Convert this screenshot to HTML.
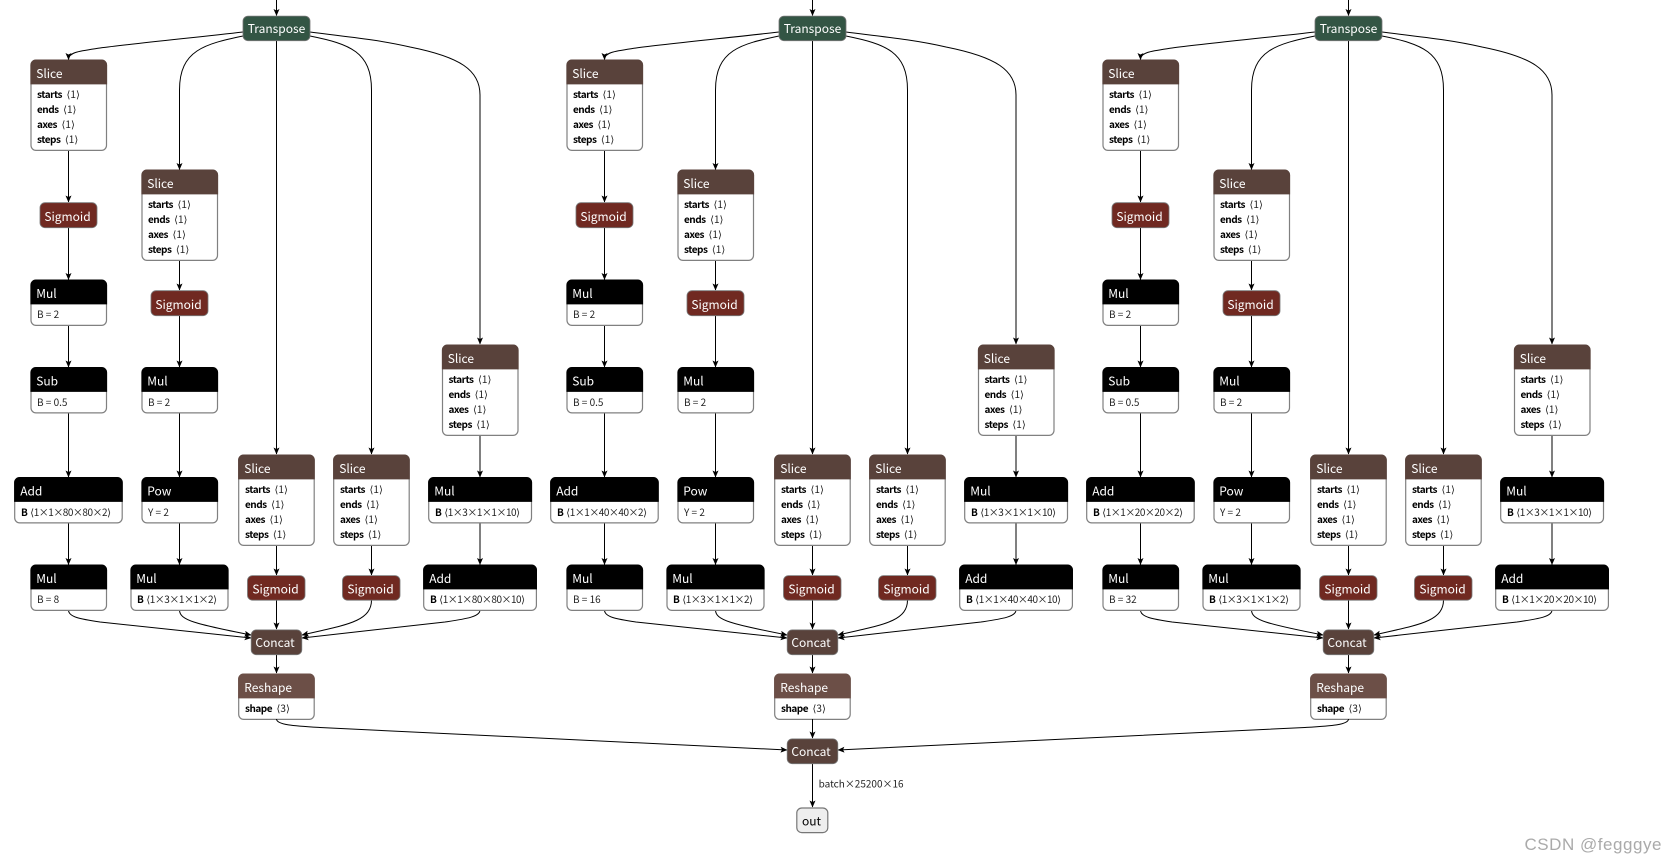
<!DOCTYPE html>
<html><head><meta charset="utf-8">
<style>
html,body{margin:0;padding:0;background:#fff}
svg{display:block}
text{font-family:"Noto Sans CJK SC","Liberation Sans",sans-serif;white-space:pre}
.h{font-size:12px;fill:#fff;transform:translate(-.8px,1px)}
.n{font-size:12px;fill:#fff;text-anchor:middle;transform:translate(0,1px)}
.a{font-size:10px;fill:#222}
.a tspan{font-weight:bold;fill:#000;letter-spacing:-.5px}
.e{fill:none;stroke:#000;stroke-width:1;marker-end:url(#m)}
.b{fill:#fff;stroke:#808080;stroke-width:1.2}
.t{fill:#59423b}.s{fill:#6c4f47}.k{fill:#000}.r{fill:#702921}.g{fill:#335544}
.o{stroke:#777;stroke-width:.8}
</style></head><body>
<svg width="1676" height="864" viewBox="0 0 1676 864" xmlns="http://www.w3.org/2000/svg">
<defs>
<marker id="m" markerUnits="userSpaceOnUse" markerWidth="7" markerHeight="6" refX="6.5" refY="3" orient="auto"><path d="M0,0L7,3L0,6L1.5,3z" fill="#000"/></marker>
<g id="E">
<path class="e" d="M276.5,0V15.5"/>
<path class="e" d="M243,32C200,37 130,44 100,48C80,51 68.5,52 68.5,59.5"/>
<path class="e" d="M243,36C205,44 179.5,50 179.5,90V169.5"/>
<path class="e" d="M276.5,40V454"/>
<path class="e" d="M310,36C350,44 371.5,52 371.5,90V454"/>
<path class="e" d="M310,32C350,37 380,40 410,47C460,57 480,70 480,95V344"/>
<path class="e" d="M68.5,150V202"/><path class="e" d="M68.5,227.5V279.5"/><path class="e" d="M68.5,325V367"/><path class="e" d="M68.5,412.5V477"/><path class="e" d="M68.5,522.5V564.5"/>
<path class="e" d="M179.5,260V290"/><path class="e" d="M179.5,315V367"/><path class="e" d="M179.5,412.5V477"/><path class="e" d="M179.5,522.5V564.5"/>
<path class="e" d="M276.5,545V575"/><path class="e" d="M276.5,600V629"/><path class="e" d="M276.5,654.5V673"/>
<path class="e" d="M371.5,545V575"/>
<path class="e" d="M480,435V477"/><path class="e" d="M480,522.5V564.5"/>
<path class="e" d="M68.5,610C68.5,617 80,619 100,622L251,638"/>
<path class="e" d="M179.5,610C179.5,620 195,624 251,635"/>
<path class="e" d="M371.5,600C371.5,622 345,625 302,635"/>
<path class="e" d="M480,610C480,617 465,619 445,622L302,638"/>
</g>
<g id="S" transform="translate(0,.4)">
<!-- slices -->
<rect class="b" x="31" y="59.7" width="75.5" height="90.3" rx="5"/><path class="t" d="M30.4,84V64.7a5.6,5.6 0 0 1 5.6,-5.6H101.5a5.6,5.6 0 0 1 5.6,5.6V84z"/>
<rect class="b" x="142" y="169.7" width="75.5" height="90.3" rx="5"/><path class="t" d="M141.4,194V174.7a5.6,5.6 0 0 1 5.6,-5.6H212.5a5.6,5.6 0 0 1 5.6,5.6V194z"/>
<rect class="b" x="442.5" y="344.7" width="75.5" height="90.3" rx="5"/><path class="t" d="M441.9,369V349.7a5.6,5.6 0 0 1 5.6,-5.6H513a5.6,5.6 0 0 1 5.6,5.6V369z"/>
<rect class="b" x="238.7" y="454.7" width="75.5" height="90.3" rx="5"/><path class="t" d="M238.1,479V459.7a5.6,5.6 0 0 1 5.6,-5.6H309.2a5.6,5.6 0 0 1 5.6,5.6V479z"/>
<rect class="b" x="333.7" y="454.7" width="75.5" height="90.3" rx="5"/><path class="t" d="M333.1,479V459.7a5.6,5.6 0 0 1 5.6,-5.6H404.2a5.6,5.6 0 0 1 5.6,5.6V479z"/>
<!-- black nodes -->
<rect class="b" x="31" y="279.7" width="75.5" height="45.3" rx="5"/><path class="k" d="M30.4,304V284.7a5.6,5.6 0 0 1 5.6,-5.6H101.5a5.6,5.6 0 0 1 5.6,5.6V304z"/>
<rect class="b" x="31" y="367.2" width="75.5" height="45.3" rx="5"/><path class="k" d="M30.4,391.5V372.2a5.6,5.6 0 0 1 5.6,-5.6H101.5a5.6,5.6 0 0 1 5.6,5.6V391.5z"/>
<rect class="b" x="142" y="367.2" width="75.5" height="45.3" rx="5"/><path class="k" d="M141.4,391.5V372.2a5.6,5.6 0 0 1 5.6,-5.6H212.5a5.6,5.6 0 0 1 5.6,5.6V391.5z"/>
<rect class="b" x="14.7" y="477.2" width="107.5" height="45.3" rx="5"/><path class="k" d="M14.1,501.5V482.2a5.6,5.6 0 0 1 5.6,-5.6H117.2a5.6,5.6 0 0 1 5.6,5.6V501.5z"/>
<rect class="b" x="142" y="477.2" width="75.5" height="45.3" rx="5"/><path class="k" d="M141.4,501.5V482.2a5.6,5.6 0 0 1 5.6,-5.6H212.5a5.6,5.6 0 0 1 5.6,5.6V501.5z"/>
<rect class="b" x="428.7" y="477.2" width="102.8" height="45.3" rx="5"/><path class="k" d="M428.1,501.5V482.2a5.6,5.6 0 0 1 5.6,-5.6H526.5a5.6,5.6 0 0 1 5.6,5.6V501.5z"/>
<rect class="b" x="31" y="564.7" width="75.5" height="45.3" rx="5"/><path class="k" d="M30.4,589V569.7a5.6,5.6 0 0 1 5.6,-5.6H101.5a5.6,5.6 0 0 1 5.6,5.6V589z"/>
<rect class="b" x="131" y="564.7" width="97" height="45.3" rx="5"/><path class="k" d="M130.4,589V569.7a5.6,5.6 0 0 1 5.6,-5.6H223a5.6,5.6 0 0 1 5.6,5.6V589z"/>
<rect class="b" x="423.7" y="564.7" width="112.7" height="45.3" rx="5"/><path class="k" d="M423.1,589V569.7a5.6,5.6 0 0 1 5.6,-5.6H531.4a5.6,5.6 0 0 1 5.6,5.6V589z"/>
<!-- reshape -->
<rect class="b" x="238.7" y="673.7" width="75.5" height="45.3" rx="5"/><path class="s" d="M238.1,698V678.7a5.6,5.6 0 0 1 5.6,-5.6H309.2a5.6,5.6 0 0 1 5.6,5.6V698z"/>
<!-- simple -->
<rect class="g o" x="243" y="15.7" width="67" height="24.6" rx="5"/>
<rect class="r o" x="40" y="202.3" width="57" height="25" rx="5"/>
<rect class="r o" x="151" y="290.3" width="57" height="25" rx="5"/>
<rect class="r o" x="247.5" y="575.2" width="57.5" height="24.6" rx="5"/>
<rect class="r o" x="342.5" y="575.2" width="57.5" height="24.6" rx="5"/>
<rect class="t o" x="251.2" y="629.5" width="50.6" height="24.8" rx="5"/>
</g>
</defs>

<!-- group 1 -->
<use href="#E"/><use href="#S"/>
<g>
<text class="n" x="276.5" y="32">Transpose</text>
<text class="h" x="37" y="77">Slice</text>
<text class="a" x="37" y="98"><tspan>starts</tspan>  ⟨1⟩</text><text class="a" x="37" y="113"><tspan>ends</tspan>  ⟨1⟩</text><text class="a" x="37" y="128"><tspan>axes</tspan>  ⟨1⟩</text><text class="a" x="37" y="143"><tspan>steps</tspan>  ⟨1⟩</text>
<text class="h" x="148" y="187">Slice</text>
<text class="a" x="148" y="208"><tspan>starts</tspan>  ⟨1⟩</text><text class="a" x="148" y="223"><tspan>ends</tspan>  ⟨1⟩</text><text class="a" x="148" y="238"><tspan>axes</tspan>  ⟨1⟩</text><text class="a" x="148" y="253"><tspan>steps</tspan>  ⟨1⟩</text>
<text class="h" x="448.5" y="362">Slice</text>
<text class="a" x="448.5" y="383"><tspan>starts</tspan>  ⟨1⟩</text><text class="a" x="448.5" y="398"><tspan>ends</tspan>  ⟨1⟩</text><text class="a" x="448.5" y="413"><tspan>axes</tspan>  ⟨1⟩</text><text class="a" x="448.5" y="428"><tspan>steps</tspan>  ⟨1⟩</text>
<text class="h" x="245" y="472">Slice</text>
<text class="a" x="245" y="493"><tspan>starts</tspan>  ⟨1⟩</text><text class="a" x="245" y="508"><tspan>ends</tspan>  ⟨1⟩</text><text class="a" x="245" y="523"><tspan>axes</tspan>  ⟨1⟩</text><text class="a" x="245" y="538"><tspan>steps</tspan>  ⟨1⟩</text>
<text class="h" x="340" y="472">Slice</text>
<text class="a" x="340" y="493"><tspan>starts</tspan>  ⟨1⟩</text><text class="a" x="340" y="508"><tspan>ends</tspan>  ⟨1⟩</text><text class="a" x="340" y="523"><tspan>axes</tspan>  ⟨1⟩</text><text class="a" x="340" y="538"><tspan>steps</tspan>  ⟨1⟩</text>
<text class="n" x="67.5" y="220">Sigmoid</text><text class="n" x="178.5" y="308">Sigmoid</text><text class="n" x="275.5" y="592.5">Sigmoid</text><text class="n" x="370.5" y="592.5">Sigmoid</text>
<text class="h" x="37" y="297">Mul</text><text class="a" x="37" y="318">B = 2</text>
<text class="h" x="37" y="384.5">Sub</text><text class="a" x="37" y="406">B = 0.5</text>
<text class="h" x="148" y="384.5">Mul</text><text class="a" x="148" y="406">B = 2</text>
<text class="h" x="21" y="494.5">Add</text><text class="a" x="21" y="516" textLength="90"><tspan>B</tspan>  ⟨1×1×80×80×2⟩</text>
<text class="h" x="148" y="494.5">Pow</text><text class="a" x="148" y="516">Y = 2</text>
<text class="h" x="435" y="494.5">Mul</text><text class="a" x="435" y="516" textLength="85"><tspan>B</tspan>  ⟨1×3×1×1×10⟩</text>
<text class="h" x="37" y="582">Mul</text><text class="a" x="37" y="603">B = 8</text>
<text class="h" x="137" y="582">Mul</text><text class="a" x="137" y="603" textLength="80"><tspan>B</tspan>  ⟨1×3×1×1×2⟩</text>
<text class="h" x="430" y="582">Add</text><text class="a" x="430" y="603" textLength="95"><tspan>B</tspan>  ⟨1×1×80×80×10⟩</text>
<text class="n" x="275" y="646">Concat</text>
<text class="h" x="245" y="691">Reshape</text><text class="a" x="245" y="712"><tspan>shape</tspan>  ⟨3⟩</text>
</g>

<!-- group 2 -->
<g transform="translate(536,0)">
<use href="#E"/><use href="#S"/>
<text class="n" x="276.5" y="32">Transpose</text>
<text class="h" x="37" y="77">Slice</text>
<text class="a" x="37" y="98"><tspan>starts</tspan>  ⟨1⟩</text><text class="a" x="37" y="113"><tspan>ends</tspan>  ⟨1⟩</text><text class="a" x="37" y="128"><tspan>axes</tspan>  ⟨1⟩</text><text class="a" x="37" y="143"><tspan>steps</tspan>  ⟨1⟩</text>
<text class="h" x="148" y="187">Slice</text>
<text class="a" x="148" y="208"><tspan>starts</tspan>  ⟨1⟩</text><text class="a" x="148" y="223"><tspan>ends</tspan>  ⟨1⟩</text><text class="a" x="148" y="238"><tspan>axes</tspan>  ⟨1⟩</text><text class="a" x="148" y="253"><tspan>steps</tspan>  ⟨1⟩</text>
<text class="h" x="448.5" y="362">Slice</text>
<text class="a" x="448.5" y="383"><tspan>starts</tspan>  ⟨1⟩</text><text class="a" x="448.5" y="398"><tspan>ends</tspan>  ⟨1⟩</text><text class="a" x="448.5" y="413"><tspan>axes</tspan>  ⟨1⟩</text><text class="a" x="448.5" y="428"><tspan>steps</tspan>  ⟨1⟩</text>
<text class="h" x="245" y="472">Slice</text>
<text class="a" x="245" y="493"><tspan>starts</tspan>  ⟨1⟩</text><text class="a" x="245" y="508"><tspan>ends</tspan>  ⟨1⟩</text><text class="a" x="245" y="523"><tspan>axes</tspan>  ⟨1⟩</text><text class="a" x="245" y="538"><tspan>steps</tspan>  ⟨1⟩</text>
<text class="h" x="340" y="472">Slice</text>
<text class="a" x="340" y="493"><tspan>starts</tspan>  ⟨1⟩</text><text class="a" x="340" y="508"><tspan>ends</tspan>  ⟨1⟩</text><text class="a" x="340" y="523"><tspan>axes</tspan>  ⟨1⟩</text><text class="a" x="340" y="538"><tspan>steps</tspan>  ⟨1⟩</text>
<text class="n" x="67.5" y="220">Sigmoid</text><text class="n" x="178.5" y="308">Sigmoid</text><text class="n" x="275.5" y="592.5">Sigmoid</text><text class="n" x="370.5" y="592.5">Sigmoid</text>
<text class="h" x="37" y="297">Mul</text><text class="a" x="37" y="318">B = 2</text>
<text class="h" x="37" y="384.5">Sub</text><text class="a" x="37" y="406">B = 0.5</text>
<text class="h" x="148" y="384.5">Mul</text><text class="a" x="148" y="406">B = 2</text>
<text class="h" x="21" y="494.5">Add</text><text class="a" x="21" y="516" textLength="90"><tspan>B</tspan>  ⟨1×1×40×40×2⟩</text>
<text class="h" x="148" y="494.5">Pow</text><text class="a" x="148" y="516">Y = 2</text>
<text class="h" x="435" y="494.5">Mul</text><text class="a" x="435" y="516" textLength="85"><tspan>B</tspan>  ⟨1×3×1×1×10⟩</text>
<text class="h" x="37" y="582">Mul</text><text class="a" x="37" y="603">B = 16</text>
<text class="h" x="137" y="582">Mul</text><text class="a" x="137" y="603" textLength="80"><tspan>B</tspan>  ⟨1×3×1×1×2⟩</text>
<text class="h" x="430" y="582">Add</text><text class="a" x="430" y="603" textLength="95"><tspan>B</tspan>  ⟨1×1×40×40×10⟩</text>
<text class="n" x="275" y="646">Concat</text>
<text class="h" x="245" y="691">Reshape</text><text class="a" x="245" y="712"><tspan>shape</tspan>  ⟨3⟩</text>
</g>

<!-- group 3 -->
<g transform="translate(1072,0)">
<use href="#E"/><use href="#S"/>
<text class="n" x="276.5" y="32">Transpose</text>
<text class="h" x="37" y="77">Slice</text>
<text class="a" x="37" y="98"><tspan>starts</tspan>  ⟨1⟩</text><text class="a" x="37" y="113"><tspan>ends</tspan>  ⟨1⟩</text><text class="a" x="37" y="128"><tspan>axes</tspan>  ⟨1⟩</text><text class="a" x="37" y="143"><tspan>steps</tspan>  ⟨1⟩</text>
<text class="h" x="148" y="187">Slice</text>
<text class="a" x="148" y="208"><tspan>starts</tspan>  ⟨1⟩</text><text class="a" x="148" y="223"><tspan>ends</tspan>  ⟨1⟩</text><text class="a" x="148" y="238"><tspan>axes</tspan>  ⟨1⟩</text><text class="a" x="148" y="253"><tspan>steps</tspan>  ⟨1⟩</text>
<text class="h" x="448.5" y="362">Slice</text>
<text class="a" x="448.5" y="383"><tspan>starts</tspan>  ⟨1⟩</text><text class="a" x="448.5" y="398"><tspan>ends</tspan>  ⟨1⟩</text><text class="a" x="448.5" y="413"><tspan>axes</tspan>  ⟨1⟩</text><text class="a" x="448.5" y="428"><tspan>steps</tspan>  ⟨1⟩</text>
<text class="h" x="245" y="472">Slice</text>
<text class="a" x="245" y="493"><tspan>starts</tspan>  ⟨1⟩</text><text class="a" x="245" y="508"><tspan>ends</tspan>  ⟨1⟩</text><text class="a" x="245" y="523"><tspan>axes</tspan>  ⟨1⟩</text><text class="a" x="245" y="538"><tspan>steps</tspan>  ⟨1⟩</text>
<text class="h" x="340" y="472">Slice</text>
<text class="a" x="340" y="493"><tspan>starts</tspan>  ⟨1⟩</text><text class="a" x="340" y="508"><tspan>ends</tspan>  ⟨1⟩</text><text class="a" x="340" y="523"><tspan>axes</tspan>  ⟨1⟩</text><text class="a" x="340" y="538"><tspan>steps</tspan>  ⟨1⟩</text>
<text class="n" x="67.5" y="220">Sigmoid</text><text class="n" x="178.5" y="308">Sigmoid</text><text class="n" x="275.5" y="592.5">Sigmoid</text><text class="n" x="370.5" y="592.5">Sigmoid</text>
<text class="h" x="37" y="297">Mul</text><text class="a" x="37" y="318">B = 2</text>
<text class="h" x="37" y="384.5">Sub</text><text class="a" x="37" y="406">B = 0.5</text>
<text class="h" x="148" y="384.5">Mul</text><text class="a" x="148" y="406">B = 2</text>
<text class="h" x="21" y="494.5">Add</text><text class="a" x="21" y="516" textLength="90"><tspan>B</tspan>  ⟨1×1×20×20×2⟩</text>
<text class="h" x="148" y="494.5">Pow</text><text class="a" x="148" y="516">Y = 2</text>
<text class="h" x="435" y="494.5">Mul</text><text class="a" x="435" y="516" textLength="85"><tspan>B</tspan>  ⟨1×3×1×1×10⟩</text>
<text class="h" x="37" y="582">Mul</text><text class="a" x="37" y="603">B = 32</text>
<text class="h" x="137" y="582">Mul</text><text class="a" x="137" y="603" textLength="80"><tspan>B</tspan>  ⟨1×3×1×1×2⟩</text>
<text class="h" x="430" y="582">Add</text><text class="a" x="430" y="603" textLength="95"><tspan>B</tspan>  ⟨1×1×20×20×10⟩</text>
<text class="n" x="275" y="646">Concat</text>
<text class="h" x="245" y="691">Reshape</text><text class="a" x="245" y="712"><tspan>shape</tspan>  ⟨3⟩</text>
</g>

<!-- final section -->
<path class="e" d="M276.5,719C276.5,725 295,726 320,727.5L787,750"/>
<path class="e" d="M1348.5,719C1348.5,725 1330,726 1305,727.5L838,750"/>
<path class="e" d="M812.5,719V738"/>
<path class="e" d="M812.5,763.5V807"/>
<rect class="t o" x="787.2" y="738.9" width="50.6" height="24.8" rx="5"/>
<text class="n" x="811" y="755">Concat</text>
<rect x="796.8" y="808" width="31" height="24.6" rx="5" fill="#eee" stroke="#777" stroke-width="1.2"/>
<text x="811.5" y="825.5" style="font-size:12px;fill:#000;text-anchor:middle">out</text>
<text x="818.6" y="787.5" style="font-size:10px;fill:#222" textLength="85">batch×25200×16</text>
<text x="1524.5" y="850" style="font-size:17px;fill:#aaa;font-family:'Liberation Sans',sans-serif" textLength="137">CSDN @fegggye</text>
</svg>
</body></html>
